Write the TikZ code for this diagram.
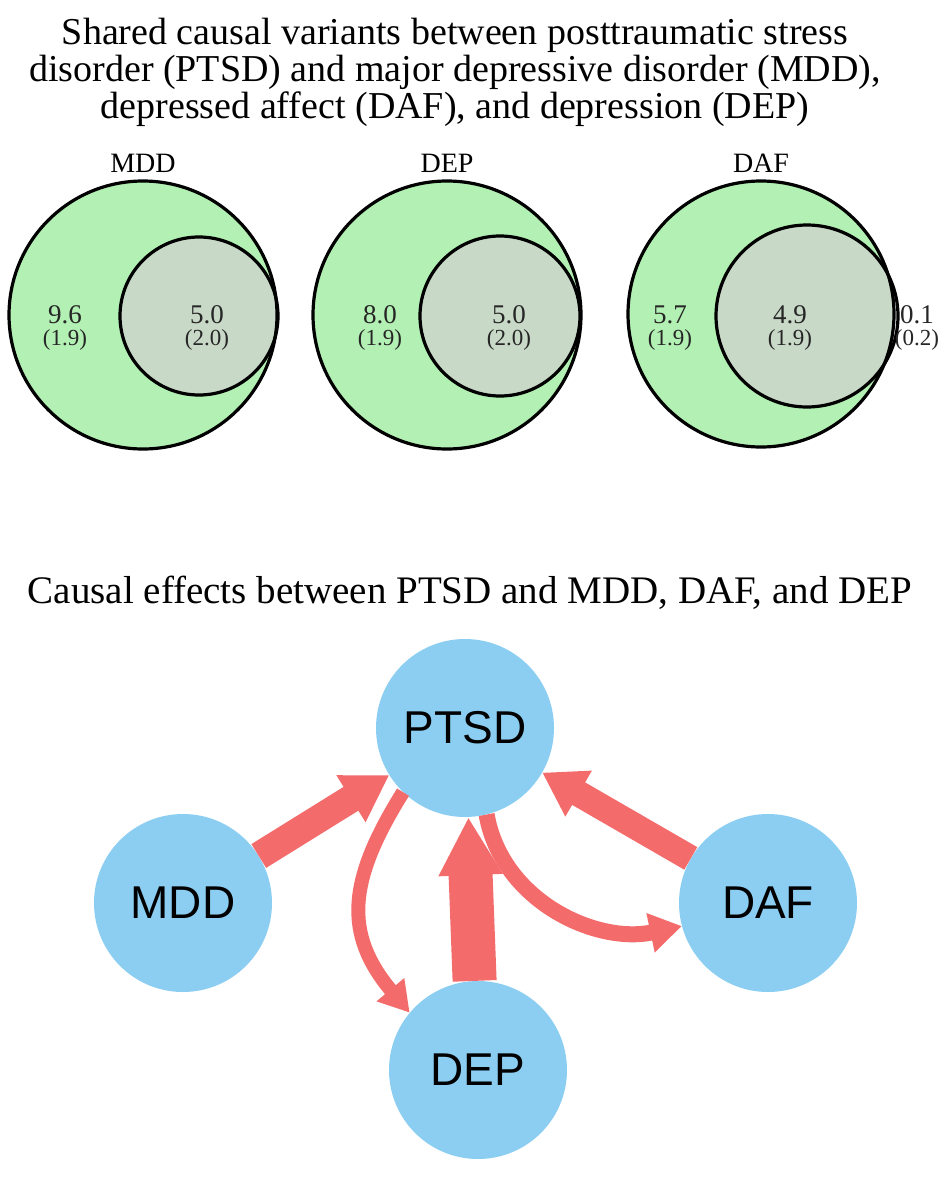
\documentclass[tikz,border=0pt]{standalone}
\usepackage{fontspec}
\setmainfont{Liberation Serif}
\newfontfamily\graphfont{Liberation Sans}
\usetikzlibrary{arrows.meta}

\definecolor{venngreen}{HTML}{B3F0B3}
\definecolor{venngray}{HTML}{C9D9C7}
\definecolor{disorderblue}{HTML}{8BCEF2}
\definecolor{effectred}{HTML}{F46B6B}

\newcommand{\vennpair}[2]{#1\\[1pt]{\fontsize{23}{23}\selectfont(#2)}}

\tikzset{
  venn/.style={draw=black, line width=3.2pt},
  vennlabel/.style={font=\fontsize{28}{30}\selectfont},
  vennnum/.style={align=center, text=black!85, font=\fontsize{27}{21}\selectfont},
  disorder/.style={circle, fill=disorderblue, minimum size=178pt, inner sep=0pt,
    font=\graphfont\fontsize{46}{46}\selectfont},
  effect/.style={draw=effectred, line width=#1},
}

\begin{document}
\begin{tikzpicture}[x=1pt, y=-1pt]
  \useasboundingbox (0,0) rectangle (941,1183);

  \node[align=center, font=\fontsize{38}{37}\selectfont] (title) at (455,72)
    {Shared causal variants between posttraumatic stress\\
     disorder (PTSD) and major depressive disorder (MDD),\\
     depressed affect (DAF), and depression (DEP)};

  % MDD
  \fill[venngreen] (143,315) circle[radius=134pt];
  \begin{scope}
    \clip (143,315) circle[radius=134pt];
    \fill[venngray] (199,316) circle[radius=79pt];
  \end{scope}
  \draw[venn] (143,315) circle[radius=134pt];
  \draw[venn] (199,316) circle[radius=79pt];
  \node[vennlabel] (mddname) at (143,163) {MDD};
  \node[vennnum] (mddonly) at (65,328) {\vennpair{9.6}{1.9}};
  \node[vennnum] (mddshared) at (207,328) {\vennpair{5.0}{2.0}};

  % DEP
  \fill[venngreen] (447,315) circle[radius=134pt];
  \begin{scope}
    \clip (447,315) circle[radius=134pt];
    \fill[venngray] (500,316) circle[radius=80pt];
  \end{scope}
  \draw[venn] (447,315) circle[radius=134pt];
  \draw[venn] (500,316) circle[radius=80pt];
  \node[vennlabel] (depname) at (447,163) {DEP};
  \node[vennnum] (deponly) at (380,328) {\vennpair{8.0}{1.9}};
  \node[vennnum] (depshared) at (509,328) {\vennpair{5.0}{2.0}};

  % DAF
  \fill[venngreen] (761,314) circle[radius=133pt];
  \begin{scope}
    \clip (761,314) circle[radius=133pt];
    \fill[venngray] (807,316) circle[radius=91pt];
  \end{scope}
  \draw[venn] (761,314) circle[radius=133pt];
  \draw[venn] (807,316) circle[radius=91pt];
  \node[vennlabel] (dafname) at (761,163) {DAF};
  \node[vennnum] (dafonly) at (670,328) {\vennpair{5.7}{1.9}};
  \node[vennnum] (dafshared) at (790,328) {\vennpair{4.9}{1.9}};
  \node[vennnum] (ptsdonly) at (917,328) {\vennpair{0.1}{0.2}};

  \node[font=\fontsize{39}{40}\selectfont] (subtitle) at (470,593)
    {Causal effects between PTSD and MDD, DAF, and DEP};

  \node[disorder] (PTSD) at (465,728) {PTSD};
  \node[disorder] (MDD) at (183,903) {MDD};
  \node[disorder] (DAF) at (768,903) {DAF};
  \node[disorder] (DEP) at (478,1070) {DEP};

  \draw[effect=28pt, -{Triangle[width=52pt,length=45pt]}] (MDD) -- (PTSD);
  \draw[effect=26pt, -{Triangle[width=50pt,length=42pt]}] (DAF) -- (PTSD);
  \draw[effect=44pt, -{Triangle[width=60pt,length=58pt]}] (DEP) -- (PTSD);
  \draw[effect=14pt, -{Triangle[width=34pt,length=30pt]}] (PTSD.226) to[out=238, in=130, looseness=1.2] (DEP.140);
  \draw[effect=16pt, -{Triangle[width=38pt,length=32pt]}] (PTSD.284) to[out=280, in=192] (DAF.195);
\end{tikzpicture}
\end{document}
